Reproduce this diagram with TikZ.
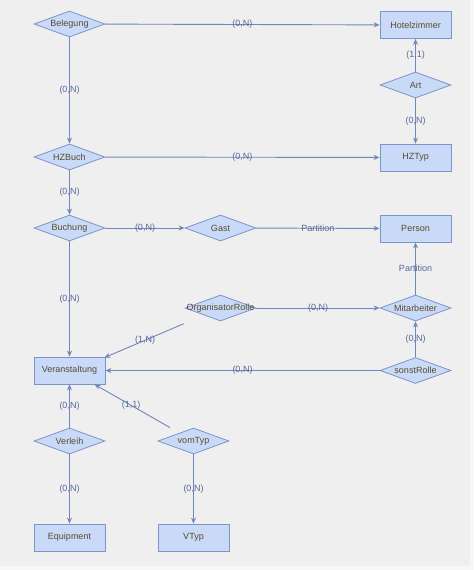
\documentclass[tikz,border=0pt]{standalone}
\usepackage{fontspec}
\setmainfont{Liberation Sans}
\usetikzlibrary{shapes.geometric,arrows.meta}
\definecolor{bgc}{HTML}{EFEFEF}
\definecolor{edgec}{HTML}{F7F7F7}
\definecolor{nfill}{HTML}{C8DAF8}
\definecolor{ndraw}{HTML}{7C94C8}
\definecolor{ntext}{HTML}{5A4B2D}
\definecolor{lcol}{HTML}{6F87BA}
\definecolor{ltext}{HTML}{56699A}
\tikzset{
  x=1pt,y=1pt,
  ent/.style={draw=ndraw,fill=nfill,line width=0.8pt,minimum width=71pt,minimum height=27pt,inner sep=0pt,text=ntext,font=\fontsize{9}{10}\selectfont},
  rel/.style={diamond,draw=ndraw,fill=nfill,line width=0.8pt,minimum width=71pt,minimum height=26pt,inner sep=0pt,text=ntext,font=\fontsize{9}{10}\selectfont},
  conn/.style={draw=lcol,line width=0.9pt,-{Stealth[length=6pt,width=5pt]}},
  lbl/.style={text=ltext,font=\fontsize{9}{10}\selectfont,inner sep=0pt}
}
\begin{document}
\begin{tikzpicture}
\fill[edgec] (0,0) rectangle (474,-570);
\fill[bgc] (0,0) rectangle (470,-566);
\useasboundingbox (0,0) rectangle (474,-570);
% entities
\node[ent] (hotel) at (415.5,-25) {Hotelzimmer};
\node[ent] (hztyp) at (415.5,-157.5) {HZTyp};
\node[ent] (person) at (415.5,-228.5) {Person};
\node[ent] (veran) at (69.5,-370.5) {Veranstaltung};
\node[ent] (equip) at (69.5,-537.5) {Equipment};
\node[ent] (vtyp) at (193.5,-537.5) {VTyp};
% relationships
\node[rel] (beleg) at (69.5,-24) {\makebox[0pt]{Belegung}};
\node[rel] (art) at (415.5,-85) {\makebox[0pt]{Art}};
\node[rel] (hzbuch) at (69.5,-157) {\makebox[0pt]{HZBuch}};
\node[rel] (buch) at (69.5,-228) {\makebox[0pt]{Buchung}};
\node[rel] (gast) at (220.5,-228) {\makebox[0pt]{Gast}};
\node[rel] (orga) at (220.5,-308) {\makebox[0pt]{OrganisatorRolle}};
\node[rel] (mitarb) at (415.5,-308) {\makebox[0pt]{Mitarbeiter}};
\node[rel] (sonst) at (415.5,-370.5) {\makebox[0pt]{sonstRolle}};
\node[rel] (verleih) at (69.5,-441) {\makebox[0pt]{Verleih}};
\node[rel] (vomtyp) at (193.5,-441) {\makebox[0pt]{vomTyp}};
% connectors
\draw[conn] (beleg) -- node[lbl]{(0,N)} (hotel);
\draw[conn] (beleg) -- node[lbl]{(0,N)} (hzbuch);
\draw[conn] (art) -- node[lbl]{(1,1)} (hotel);
\draw[conn] (art) -- node[lbl]{(0,N)} (hztyp);
\draw[conn] (hzbuch) -- node[lbl]{(0,N)} (hztyp);
\draw[conn] (hzbuch) -- node[lbl]{(0,N)} (buch);
\draw[conn] (buch) -- node[lbl]{(0,N)} (gast);
\draw[conn] (gast) -- node[lbl]{Partition} (person);
\draw[conn] (mitarb) -- node[lbl]{Partition} (person);
\draw[conn] (buch) -- node[lbl]{(0,N)} (veran);
\draw[conn] (orga) -- node[lbl]{(0,N)} (mitarb);
\draw[conn] (sonst) -- node[lbl]{(0,N)} (mitarb);
\draw[conn] (sonst) -- node[lbl]{(0,N)} (veran);
\draw[conn] (verleih) -- node[lbl]{(0,N)} (veran);
\draw[conn] (verleih) -- node[lbl]{(0,N)} (equip);
\draw[conn] (vomtyp) -- node[lbl]{(0,N)} (vtyp);
\draw[conn,shorten <=40pt] (orga.center) -- node[lbl,pos=0.65]{(1,N)} ([xshift=-1pt,yshift=-1pt]veran.north east);
\draw[conn,shorten <=27pt] (vomtyp.center) -- node[lbl,pos=0.63]{(1,1)} ([xshift=25pt]veran.south);
\end{tikzpicture}
\end{document}
